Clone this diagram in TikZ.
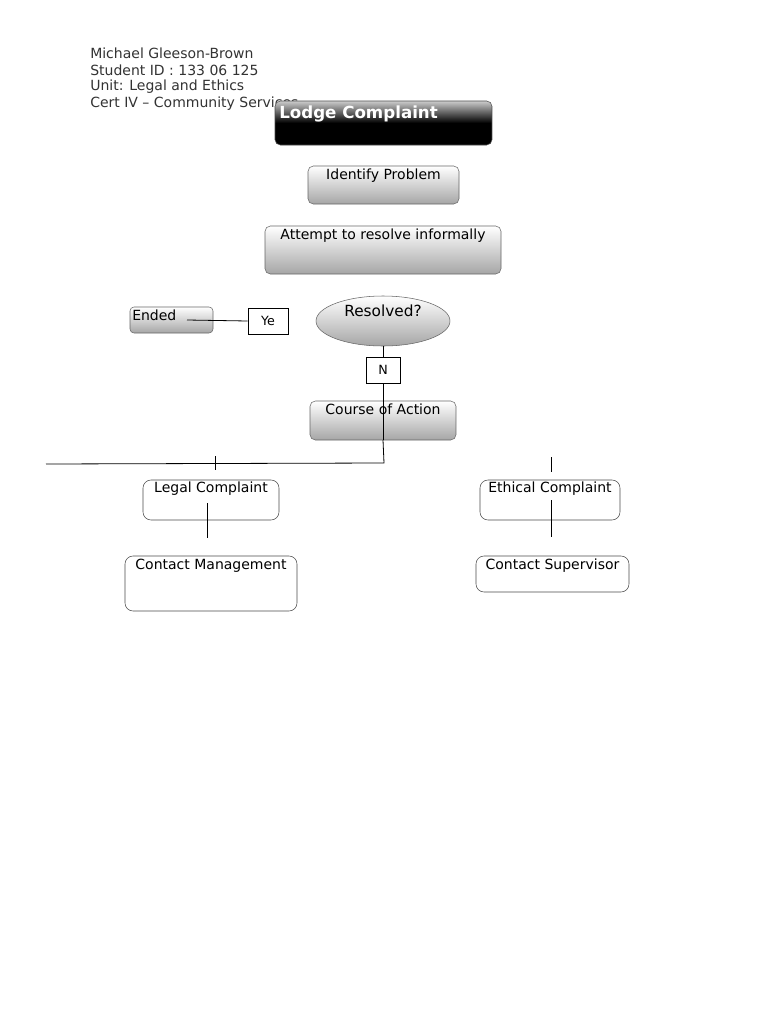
\documentclass[tikz,border=0pt]{standalone}
\usepackage{fontspec}
\setmainfont{DejaVu Sans}
\usetikzlibrary{shapes.geometric}
\begin{document}
\begin{tikzpicture}[x=0.75pt,y=-0.75pt,
 gbox/.style={draw=black!60,rounded corners=4pt,top color=white,bottom color=black!35},
 wbox/.style={draw=black!70,rounded corners=6pt,fill=white},
 lbl/.style={anchor=north,inner sep=0pt,font=\fontsize{10.5pt}{12pt}\selectfont},
 sq/.style={draw,fill=white,inner sep=0pt,font=\fontsize{9.5pt}{11pt}\selectfont},
 ln/.style={draw=black,line width=0.6pt},
 hdr/.style={anchor=west,inner sep=0pt,text=black!80,font=\fontsize{10.5pt}{12pt}\selectfont}]
\useasboundingbox (0,0) rectangle (768,1024);
\fill[white] (0,0) rectangle (768,1024);
\node[hdr] (h1) at (90,53) {Michael Gleeson-Brown};
\node[hdr] (h2) at (90,70) {Student ID : 133 06 125};
\node[hdr] (h3) at (90,87) {Unit: Legal and Ethics};
\node[hdr] (h4) at (90,104) {Cert IV – Community Services};
% Lodge complaint
\draw[rounded corners=4pt,draw=black!70,top color=black!20,bottom color=black,middle color=black] (275,101) rectangle (492,145);
\node[anchor=north west,inner sep=0pt,text=white,font=\bfseries\fontsize{12.5pt}{14pt}\selectfont] (lodge) at (279,106) {Lodge Complaint};
\draw[gbox] (308,166) rectangle (459,204);
\node[lbl] (idp) at (383.5,169) {Identify Problem};
\draw[gbox] (265,226) rectangle (501,274);
\node[lbl] (att) at (383,229) {Attempt to resolve informally};
\node[ellipse,draw=black!60,top color=white,bottom color=black!35,minimum width=134pt*0.75,minimum height=50pt*0.75,inner sep=0pt] (res) at (383,321) {};
\node[inner sep=0pt,font=\fontsize{11.5pt}{13pt}\selectfont] (rest) at (383,311) {Resolved?};
\draw[gbox,rounded corners=3pt] (130,307) rectangle (213,333);
\node[anchor=north west,inner sep=0pt,font=\fontsize{10.5pt}{12pt}\selectfont] (end) at (132,310) {Ended};
\node[sq,minimum width=30pt,minimum height=19.5pt] (ye) at (268,321) {Ye};
\coordinate (ee) at (187,320);
\draw[ln] (ee) -- (ye.west);
\node[sq,minimum width=25.5pt,minimum height=19.5pt] (n) at (383,370) {N};
\draw[ln] (res.south) -- (n.north);
\draw[gbox] (310,401) rectangle (456,440);
\node[lbl] (coa) at (383,404) {Course of Action};
\coordinate (c1) at (383,440);
\draw[ln] (n.south) -- (c1);
\coordinate (c2) at (384,463);
\coordinate (c3) at (46,464);
\draw[ln] (c1) -- (c2) -- (c3);
\coordinate (t1) at (215,456); \coordinate (t2) at (215,470);
\draw[ln] (t1) -- (t2);
\coordinate (t3) at (551,457); \coordinate (t4) at (551,472);
\draw[ln] (t3) -- (t4);
\draw[wbox] (143,480) rectangle (279,520);
\node[lbl] (lc) at (211,482) {Legal Complaint};
\draw[wbox] (480,480) rectangle (620,520);
\node[lbl] (ec) at (550,482) {Ethical Complaint};
\coordinate (l1) at (207,503); \coordinate (l2) at (207,538);
\draw[ln] (l1) -- (l2);
\coordinate (e1) at (551,500); \coordinate (e2) at (551,537);
\draw[ln] (e1) -- (e2);
\draw[wbox] (125,556) rectangle (297,611);
\node[lbl] (cm) at (211,559) {Contact Management};
\draw[wbox] (476,556) rectangle (629,592);
\node[lbl] (cs) at (552.5,559) {Contact Supervisor};
\end{tikzpicture}
\end{document}
